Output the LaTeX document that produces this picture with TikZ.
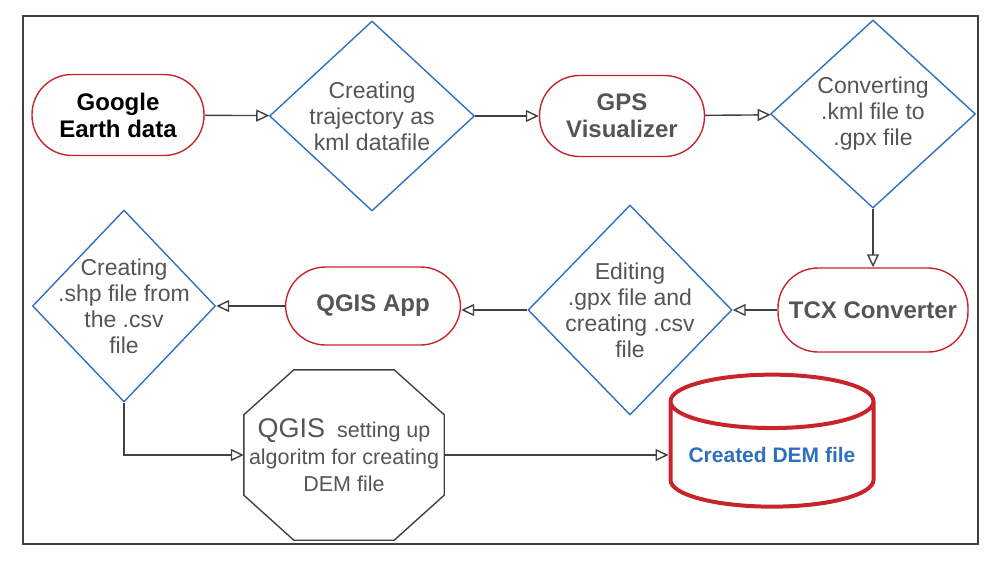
\documentclass[tikz,border=0pt]{standalone}
\usepackage{fontspec}
\setmainfont{Liberation Sans}
\usetikzlibrary{shapes.geometric,arrows.meta}
\definecolor{rd}{HTML}{C8242C}
\definecolor{bl}{HTML}{2F6FC0}
\definecolor{gt}{HTML}{555555}
\begin{document}
\begin{tikzpicture}[x=1pt,y=-1pt,
 term/.style={draw=rd,line width=1.4pt,rounded corners=40pt,minimum width=172pt,minimum height=81pt,align=center,font=\fontsize{24}{27}\selectfont\bfseries},
 dia/.style={draw=bl,line width=1.4pt,diamond,minimum width=205pt,minimum height=190pt,inner sep=0pt},
 dtext/.style={align=center,text=gt,font=\fontsize{23}{26}\selectfont},
 arr/.style={draw=black!75,line width=1.4pt,-{Triangle[open,length=13pt,width=12pt]}}]
\useasboundingbox (0,0) rectangle (999,562);
\draw[black!75,line width=1.4pt] (23,16) rectangle (978,544);
\node[term] (ge) at (118,115) {Google\\Earth data};
\node[dia] (d1) at (372,116) {};
\node[dtext] (t1) at (d1) {Creating\\trajectory as\\kml datafile};
\node[term,text=gt,minimum width=165pt] (gps) at (622,116) {GPS\\Visualizer};
\node[dia,minimum height=188pt] (d2) at (873,114) {};
\node[dtext] (t2) at (d2) {Converting\\.kml file to\\.gpx file};
\node[term,text=gt,minimum width=190pt,minimum height=84pt] (tcx) at (873,310) {TCX Converter};
\node[dia,minimum width=204pt,minimum height=210pt] (d3) at (630,310) {};
\node[dtext] (t3) at (d3) {Editing\\.gpx file and\\creating .csv\\file};
\node[term,text=gt,minimum width=175pt,minimum height=78pt] (qa) at (373,306) {QGIS App};
\node[dia,minimum width=183pt,minimum height=192pt] (d4) at (124,306) {};
\node[dtext] (t4) at (d4) {Creating\\.shp file from\\the .csv\\file};
\node[minimum width=200pt,minimum height=170pt,inner sep=0pt,align=center,text=gt,font=\fontsize{21.5}{27}\selectfont] (oct) at (344,455) {{\fontsize{27}{27}\selectfont QGIS}\ \ setting up\\algoritm for creating\\DEM file};
\draw[black!75,line width=1.4pt] ([xshift=50pt]oct.north west) -- ([xshift=-50pt]oct.north east) -- ([yshift=-45pt]oct.north east) -- ([yshift=45pt]oct.south east) -- ([xshift=-50pt]oct.south east) -- ([xshift=50pt]oct.south west) -- ([yshift=45pt]oct.south west) -- ([yshift=-45pt]oct.north west) -- cycle;
\node[cylinder,shape border rotate=90,draw=rd,line width=4pt,minimum width=203pt,minimum height=132pt,aspect=0.32,inner sep=0pt,text=bl,font=\fontsize{21}{24}\selectfont\bfseries] (dem) at (772,455) {Created DEM file};
\draw[arr] (ge) -- (d1);
\draw[arr] (d1) -- (gps);
\draw[arr] (gps) -- (d2);
\draw[arr] (d2) -- (tcx);
\draw[arr] (tcx) -- (tcx -| d3.east);
\draw[arr] (d3.west) -- (d3.west -| qa.east);
\draw[arr] (qa) -- (qa -| d4.east);
\draw[arr] (d4.south) |- (oct.west);
\draw[arr] (oct.east) -- (oct.east -| dem.west);
\end{tikzpicture}
\end{document}
